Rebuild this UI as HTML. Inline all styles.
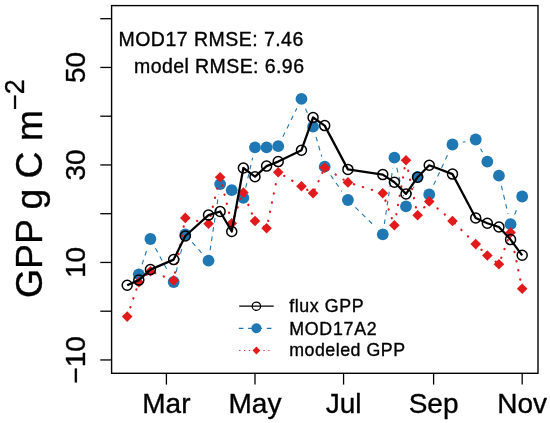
<!DOCTYPE html>
<html><head><meta charset="utf-8"><style>
html,body{margin:0;padding:0;background:#fff;}
svg{display:block;}
text{font-family:"Liberation Sans",Arial,Helvetica,sans-serif;fill:#000;stroke:#000;stroke-width:0.35px;}
.ax{font-size:28px;}
.yl{font-size:37.3px;}
.sup{font-size:27px;}
.tx{font-size:19.5px;}
.lg{font-size:17.8px;}
</style></head><body>
<svg width="550" height="423" viewBox="0 0 550 423">
<rect width="550" height="423" fill="#fff"/>
<rect x="111.6" y="5.6" width="426.40" height="367.70" fill="none" stroke="#000" stroke-width="1.4"/>
<line x1="100.30" y1="359.95" x2="111.60" y2="359.95" stroke="#000" stroke-width="1.3"/>
<line x1="100.30" y1="311.20" x2="111.60" y2="311.20" stroke="#000" stroke-width="1.3"/>
<line x1="100.30" y1="262.45" x2="111.60" y2="262.45" stroke="#000" stroke-width="1.3"/>
<line x1="100.30" y1="213.70" x2="111.60" y2="213.70" stroke="#000" stroke-width="1.3"/>
<line x1="100.30" y1="164.95" x2="111.60" y2="164.95" stroke="#000" stroke-width="1.3"/>
<line x1="100.30" y1="116.20" x2="111.60" y2="116.20" stroke="#000" stroke-width="1.3"/>
<line x1="100.30" y1="67.45" x2="111.60" y2="67.45" stroke="#000" stroke-width="1.3"/>
<line x1="100.30" y1="18.70" x2="111.60" y2="18.70" stroke="#000" stroke-width="1.3"/>
<text class="ax" transform="translate(85.3,67.45) rotate(-90)" text-anchor="middle">50</text>
<text class="ax" transform="translate(85.3,164.95) rotate(-90)" text-anchor="middle">30</text>
<text class="ax" transform="translate(85.3,262.45) rotate(-90)" text-anchor="middle">10</text>
<text class="ax" transform="translate(85.3,359.95) rotate(-90)" text-anchor="middle">−10</text>
<line x1="166.41" y1="373.30" x2="166.41" y2="384.60" stroke="#000" stroke-width="1.3"/>
<text class="ax" x="166.41" y="412.5" text-anchor="middle">Mar</text>
<line x1="254.99" y1="373.30" x2="254.99" y2="384.60" stroke="#000" stroke-width="1.3"/>
<text class="ax" x="254.99" y="412.5" text-anchor="middle">May</text>
<line x1="343.57" y1="373.30" x2="343.57" y2="384.60" stroke="#000" stroke-width="1.3"/>
<text class="ax" x="343.57" y="412.5" text-anchor="middle">Jul</text>
<line x1="433.60" y1="373.30" x2="433.60" y2="384.60" stroke="#000" stroke-width="1.3"/>
<text class="ax" x="433.60" y="412.5" text-anchor="middle">Sep</text>
<line x1="522.18" y1="373.30" x2="522.18" y2="384.60" stroke="#000" stroke-width="1.3"/>
<text class="ax" x="522.18" y="412.5" text-anchor="middle">Nov</text>
<text class="yl" transform="translate(41.7,188.6) rotate(-90)" text-anchor="middle">GPP g C m<tspan class="sup" dy="-17.8">−2</tspan></text>
<path d="M142.10 264.33L147.15 248.97" fill="none" stroke="#1F78B4" stroke-width="1.1" stroke-dasharray="4.67 4.67"/>
<path d="M155.43 248.24L168.68 272.76" fill="none" stroke="#1F78B4" stroke-width="1.1" stroke-dasharray="4.67 4.67"/>
<path d="M176.16 271.80L182.79 244.70" fill="none" stroke="#1F78B4" stroke-width="1.1" stroke-dasharray="4.67 4.67"/>
<path d="M192.27 242.34L201.54 252.76" fill="none" stroke="#1F78B4" stroke-width="1.1" stroke-dasharray="4.67 4.67"/>
<path d="M210.10 250.22L218.56 194.48" fill="none" stroke="#1F78B4" stroke-width="1.1" stroke-dasharray="4.67 4.67"/>
<path d="M245.73 187.57L252.63 157.63" fill="none" stroke="#1F78B4" stroke-width="1.1" stroke-dasharray="4.67 4.67"/>
<path d="M282.85 136.78L296.83 108.32" fill="none" stroke="#1F78B4" stroke-width="1.1" stroke-dasharray="4.67 4.67"/>
<path d="M305.50 108.59L309.02 117.01" fill="none" stroke="#1F78B4" stroke-width="1.1" stroke-dasharray="4.67 4.67"/>
<path d="M316.00 136.78L321.76 156.62" fill="none" stroke="#1F78B4" stroke-width="1.1" stroke-dasharray="4.67 4.67"/>
<path d="M330.70 175.31L341.91 191.39" fill="none" stroke="#1F78B4" stroke-width="1.1" stroke-dasharray="4.67 4.67"/>
<path d="M355.41 207.37L375.29 226.93" fill="none" stroke="#1F78B4" stroke-width="1.1" stroke-dasharray="4.67 4.67"/>
<path d="M384.35 223.92L392.82 168.08" fill="none" stroke="#1F78B4" stroke-width="1.1" stroke-dasharray="4.67 4.67"/>
<path d="M396.83 167.91L403.57 196.19" fill="none" stroke="#1F78B4" stroke-width="1.1" stroke-dasharray="4.67 4.67"/>
<path d="M409.87 196.63L413.77 186.77" fill="none" stroke="#1F78B4" stroke-width="1.1" stroke-dasharray="4.67 4.67"/>
<path d="M433.67 184.88L448.04 154.02" fill="none" stroke="#1F78B4" stroke-width="1.1" stroke-dasharray="4.67 4.67"/>
<path d="M462.74 142.29L465.45 141.71" fill="none" stroke="#1F78B4" stroke-width="1.1" stroke-dasharray="4.67 4.67"/>
<path d="M480.60 148.79L482.44 152.31" fill="none" stroke="#1F78B4" stroke-width="1.1" stroke-dasharray="4.67 4.67"/>
<path d="M501.39 185.91L508.12 213.99" fill="none" stroke="#1F78B4" stroke-width="1.1" stroke-dasharray="4.67 4.67"/>
<path d="M514.62 214.52L518.12 206.18" fill="none" stroke="#1F78B4" stroke-width="1.1" stroke-dasharray="4.67 4.67"/>
<circle cx="138.82" cy="274.30" r="5.9" fill="#1F78B4"/>
<circle cx="150.43" cy="239.00" r="5.9" fill="#1F78B4"/>
<circle cx="173.67" cy="282.00" r="5.9" fill="#1F78B4"/>
<circle cx="185.29" cy="234.50" r="5.9" fill="#1F78B4"/>
<circle cx="208.52" cy="260.60" r="5.9" fill="#1F78B4"/>
<circle cx="220.14" cy="184.10" r="5.9" fill="#1F78B4"/>
<circle cx="231.75" cy="190.20" r="5.9" fill="#1F78B4"/>
<circle cx="243.37" cy="197.80" r="5.9" fill="#1F78B4"/>
<circle cx="254.99" cy="147.40" r="5.9" fill="#1F78B4"/>
<circle cx="266.60" cy="147.40" r="5.9" fill="#1F78B4"/>
<circle cx="278.22" cy="146.20" r="5.9" fill="#1F78B4"/>
<circle cx="301.46" cy="98.90" r="5.9" fill="#1F78B4"/>
<circle cx="313.07" cy="126.70" r="5.9" fill="#1F78B4"/>
<circle cx="324.69" cy="166.70" r="5.9" fill="#1F78B4"/>
<circle cx="347.92" cy="200.00" r="5.9" fill="#1F78B4"/>
<circle cx="382.77" cy="234.30" r="5.9" fill="#1F78B4"/>
<circle cx="394.39" cy="157.70" r="5.9" fill="#1F78B4"/>
<circle cx="406.01" cy="206.40" r="5.9" fill="#1F78B4"/>
<circle cx="417.62" cy="177.00" r="5.9" fill="#1F78B4"/>
<circle cx="429.24" cy="194.40" r="5.9" fill="#1F78B4"/>
<circle cx="452.48" cy="144.50" r="5.9" fill="#1F78B4"/>
<circle cx="475.71" cy="139.50" r="5.9" fill="#1F78B4"/>
<circle cx="487.33" cy="161.60" r="5.9" fill="#1F78B4"/>
<circle cx="498.94" cy="175.70" r="5.9" fill="#1F78B4"/>
<circle cx="510.56" cy="224.20" r="5.9" fill="#1F78B4"/>
<circle cx="522.18" cy="196.50" r="5.9" fill="#1F78B4"/>
<path d="M127.20 316.60L138.82 282.30" fill="none" stroke="#E31A1C" stroke-width="2.2" stroke-linecap="round" stroke-dasharray="0.3 9.04" stroke-dashoffset="8.92"/>
<path d="M138.82 282.30L150.43 271.20" fill="none" stroke="#E31A1C" stroke-width="2.2" stroke-linecap="round" stroke-dasharray="0.3 9.04" stroke-dashoffset="7.79"/>
<path d="M150.43 271.20L173.67 280.40" fill="none" stroke="#E31A1C" stroke-width="2.2" stroke-linecap="round" stroke-dasharray="0.3 9.04" stroke-dashoffset="4.42"/>
<path d="M173.67 280.40L185.29 217.90" fill="none" stroke="#E31A1C" stroke-width="2.2" stroke-linecap="round" stroke-dasharray="0.3 9.04" stroke-dashoffset="1.40"/>
<path d="M185.29 217.90L208.52 223.80" fill="none" stroke="#E31A1C" stroke-width="2.2" stroke-linecap="round" stroke-dasharray="0.3 9.04" stroke-dashoffset="6.62"/>
<path d="M208.52 223.80L220.14 177.20" fill="none" stroke="#E31A1C" stroke-width="2.2" stroke-linecap="round" stroke-dasharray="0.3 9.04" stroke-dashoffset="1.24"/>
<path d="M220.14 177.20L231.75 223.20" fill="none" stroke="#E31A1C" stroke-width="2.2" stroke-linecap="round" stroke-dasharray="0.3 9.04" stroke-dashoffset="0.84"/>
<path d="M231.75 223.20L243.37 192.50" fill="none" stroke="#E31A1C" stroke-width="2.2" stroke-linecap="round" stroke-dasharray="0.3 9.04" stroke-dashoffset="2.02"/>
<path d="M243.37 192.50L254.99 221.00" fill="none" stroke="#E31A1C" stroke-width="2.2" stroke-linecap="round" stroke-dasharray="0.3 9.04" stroke-dashoffset="5.49"/>
<path d="M254.99 221.00L266.60 228.30" fill="none" stroke="#E31A1C" stroke-width="2.2" stroke-linecap="round" stroke-dasharray="0.3 9.04" stroke-dashoffset="8.25"/>
<path d="M266.60 228.30L278.22 172.20" fill="none" stroke="#E31A1C" stroke-width="2.2" stroke-linecap="round" stroke-dasharray="0.3 9.04" stroke-dashoffset="1.89"/>
<path d="M278.22 172.20L301.46 186.30" fill="none" stroke="#E31A1C" stroke-width="2.2" stroke-linecap="round" stroke-dasharray="0.3 9.04" stroke-dashoffset="2.39"/>
<path d="M301.46 186.30L313.07 193.30" fill="none" stroke="#E31A1C" stroke-width="2.2" stroke-linecap="round" stroke-dasharray="0.3 9.04" stroke-dashoffset="2.69"/>
<path d="M313.07 193.30L324.69 167.60" fill="none" stroke="#E31A1C" stroke-width="2.2" stroke-linecap="round" stroke-dasharray="0.3 9.04" stroke-dashoffset="5.59"/>
<path d="M324.69 167.60L347.92 182.40" fill="none" stroke="#E31A1C" stroke-width="2.2" stroke-linecap="round" stroke-dasharray="0.3 9.04" stroke-dashoffset="5.78"/>
<path d="M347.92 182.40L382.77 193.20" fill="none" stroke="#E31A1C" stroke-width="2.2" stroke-linecap="round" stroke-dasharray="0.3 9.04" stroke-dashoffset="3.12"/>
<path d="M382.77 193.20L394.39 225.20" fill="none" stroke="#E31A1C" stroke-width="2.2" stroke-linecap="round" stroke-dasharray="0.3 9.04" stroke-dashoffset="1.59"/>
<path d="M394.39 225.20L406.01 160.30" fill="none" stroke="#E31A1C" stroke-width="2.2" stroke-linecap="round" stroke-dasharray="0.3 9.04" stroke-dashoffset="7.62"/>
<path d="M406.01 160.30L417.62 215.30" fill="none" stroke="#E31A1C" stroke-width="2.2" stroke-linecap="round" stroke-dasharray="0.3 9.04" stroke-dashoffset="8.20"/>
<path d="M417.62 215.30L429.24 201.40" fill="none" stroke="#E31A1C" stroke-width="2.2" stroke-linecap="round" stroke-dasharray="0.3 9.04" stroke-dashoffset="8.40"/>
<path d="M429.24 201.40L452.48 221.00" fill="none" stroke="#E31A1C" stroke-width="2.2" stroke-linecap="round" stroke-dasharray="0.3 9.04" stroke-dashoffset="7.84"/>
<path d="M452.48 221.00L475.71 244.10" fill="none" stroke="#E31A1C" stroke-width="2.2" stroke-linecap="round" stroke-dasharray="0.3 9.04" stroke-dashoffset="6.24"/>
<path d="M475.71 244.10L487.33 255.50" fill="none" stroke="#E31A1C" stroke-width="2.2" stroke-linecap="round" stroke-dasharray="0.3 9.04" stroke-dashoffset="1.39"/>
<path d="M487.33 255.50L498.94 264.20" fill="none" stroke="#E31A1C" stroke-width="2.2" stroke-linecap="round" stroke-dasharray="0.3 9.04" stroke-dashoffset="8.33"/>
<path d="M498.94 264.20L510.56 232.60" fill="none" stroke="#E31A1C" stroke-width="2.2" stroke-linecap="round" stroke-dasharray="0.3 9.04" stroke-dashoffset="2.69"/>
<path d="M510.56 232.60L522.18 288.80" fill="none" stroke="#E31A1C" stroke-width="2.2" stroke-linecap="round" stroke-dasharray="0.3 9.04" stroke-dashoffset="8.35"/>
<polygon points="127.20,311.30 132.50,316.60 127.20,321.90 121.90,316.60" fill="#E31A1C"/>
<polygon points="138.82,277.00 144.12,282.30 138.82,287.60 133.52,282.30" fill="#E31A1C"/>
<polygon points="150.43,265.90 155.73,271.20 150.43,276.50 145.13,271.20" fill="#E31A1C"/>
<polygon points="173.67,275.10 178.97,280.40 173.67,285.70 168.37,280.40" fill="#E31A1C"/>
<polygon points="185.29,212.60 190.59,217.90 185.29,223.20 179.99,217.90" fill="#E31A1C"/>
<polygon points="208.52,218.50 213.82,223.80 208.52,229.10 203.22,223.80" fill="#E31A1C"/>
<polygon points="220.14,171.90 225.44,177.20 220.14,182.50 214.84,177.20" fill="#E31A1C"/>
<polygon points="231.75,217.90 237.05,223.20 231.75,228.50 226.45,223.20" fill="#E31A1C"/>
<polygon points="243.37,187.20 248.67,192.50 243.37,197.80 238.07,192.50" fill="#E31A1C"/>
<polygon points="254.99,215.70 260.29,221.00 254.99,226.30 249.69,221.00" fill="#E31A1C"/>
<polygon points="266.60,223.00 271.90,228.30 266.60,233.60 261.30,228.30" fill="#E31A1C"/>
<polygon points="278.22,166.90 283.52,172.20 278.22,177.50 272.92,172.20" fill="#E31A1C"/>
<polygon points="301.46,181.00 306.76,186.30 301.46,191.60 296.16,186.30" fill="#E31A1C"/>
<polygon points="313.07,188.00 318.37,193.30 313.07,198.60 307.77,193.30" fill="#E31A1C"/>
<polygon points="324.69,162.30 329.99,167.60 324.69,172.90 319.39,167.60" fill="#E31A1C"/>
<polygon points="347.92,177.10 353.22,182.40 347.92,187.70 342.62,182.40" fill="#E31A1C"/>
<polygon points="382.77,187.90 388.07,193.20 382.77,198.50 377.47,193.20" fill="#E31A1C"/>
<polygon points="394.39,219.90 399.69,225.20 394.39,230.50 389.09,225.20" fill="#E31A1C"/>
<polygon points="406.01,155.00 411.31,160.30 406.01,165.60 400.71,160.30" fill="#E31A1C"/>
<polygon points="417.62,210.00 422.93,215.30 417.62,220.60 412.32,215.30" fill="#E31A1C"/>
<polygon points="429.24,196.10 434.54,201.40 429.24,206.70 423.94,201.40" fill="#E31A1C"/>
<polygon points="452.48,215.70 457.78,221.00 452.48,226.30 447.18,221.00" fill="#E31A1C"/>
<polygon points="475.71,238.80 481.01,244.10 475.71,249.40 470.41,244.10" fill="#E31A1C"/>
<polygon points="487.33,250.20 492.63,255.50 487.33,260.80 482.03,255.50" fill="#E31A1C"/>
<polygon points="498.94,258.90 504.24,264.20 498.94,269.50 493.64,264.20" fill="#E31A1C"/>
<polygon points="510.56,227.30 515.86,232.60 510.56,237.90 505.26,232.60" fill="#E31A1C"/>
<polygon points="522.18,283.50 527.48,288.80 522.18,294.10 516.88,288.80" fill="#E31A1C"/>
<circle cx="127.20" cy="285.30" r="5.0" fill="none" stroke="#000" stroke-width="1.5"/>
<circle cx="138.82" cy="280.10" r="5.0" fill="none" stroke="#000" stroke-width="1.5"/>
<circle cx="150.43" cy="269.60" r="5.0" fill="none" stroke="#000" stroke-width="1.5"/>
<circle cx="173.67" cy="259.60" r="5.0" fill="none" stroke="#000" stroke-width="1.5"/>
<circle cx="185.29" cy="236.00" r="5.0" fill="none" stroke="#000" stroke-width="1.5"/>
<circle cx="208.52" cy="215.10" r="5.0" fill="none" stroke="#000" stroke-width="1.5"/>
<circle cx="220.14" cy="211.50" r="5.0" fill="none" stroke="#000" stroke-width="1.5"/>
<circle cx="231.75" cy="231.50" r="5.0" fill="none" stroke="#000" stroke-width="1.5"/>
<circle cx="243.37" cy="168.00" r="5.0" fill="none" stroke="#000" stroke-width="1.5"/>
<circle cx="254.99" cy="176.70" r="5.0" fill="none" stroke="#000" stroke-width="1.5"/>
<circle cx="266.60" cy="166.10" r="5.0" fill="none" stroke="#000" stroke-width="1.5"/>
<circle cx="278.22" cy="161.60" r="5.0" fill="none" stroke="#000" stroke-width="1.5"/>
<circle cx="301.46" cy="150.20" r="5.0" fill="none" stroke="#000" stroke-width="1.5"/>
<circle cx="313.07" cy="117.50" r="5.0" fill="none" stroke="#000" stroke-width="1.5"/>
<circle cx="324.69" cy="125.60" r="5.0" fill="none" stroke="#000" stroke-width="1.5"/>
<circle cx="347.92" cy="169.40" r="5.0" fill="none" stroke="#000" stroke-width="1.5"/>
<circle cx="382.77" cy="174.60" r="5.0" fill="none" stroke="#000" stroke-width="1.5"/>
<circle cx="394.39" cy="182.30" r="5.0" fill="none" stroke="#000" stroke-width="1.5"/>
<circle cx="406.01" cy="193.90" r="5.0" fill="none" stroke="#000" stroke-width="1.5"/>
<circle cx="417.62" cy="177.20" r="5.0" fill="none" stroke="#000" stroke-width="1.5"/>
<circle cx="429.24" cy="165.30" r="5.0" fill="none" stroke="#000" stroke-width="1.5"/>
<circle cx="452.48" cy="174.10" r="5.0" fill="none" stroke="#000" stroke-width="1.5"/>
<circle cx="475.71" cy="218.00" r="5.0" fill="none" stroke="#000" stroke-width="1.5"/>
<circle cx="487.33" cy="223.20" r="5.0" fill="none" stroke="#000" stroke-width="1.5"/>
<circle cx="498.94" cy="227.00" r="5.0" fill="none" stroke="#000" stroke-width="1.5"/>
<circle cx="510.56" cy="239.60" r="5.0" fill="none" stroke="#000" stroke-width="1.5"/>
<circle cx="522.18" cy="255.30" r="5.0" fill="none" stroke="#000" stroke-width="1.5"/>
<polyline points="127.20,285.30 138.82,280.10 150.43,269.60 173.67,259.60 185.29,236.00 208.52,215.10 220.14,211.50 231.75,231.50 243.37,168.00 254.99,176.70 266.60,166.10 278.22,161.60 301.46,150.20 313.07,117.50 324.69,125.60 347.92,169.40 382.77,174.60 394.39,182.30 406.01,193.90 417.62,177.20 429.24,165.30 452.48,174.10 475.71,218.00 487.33,223.20 498.94,227.00 510.56,239.60 522.18,255.30" fill="none" stroke="#000" stroke-width="2.25" stroke-linejoin="round"/>
<text class="tx" x="118.5" y="46.0" textLength="184.8" lengthAdjust="spacing">MOD17 RMSE: 7.46</text>
<text class="tx" x="134.0" y="72.7" textLength="170.0" lengthAdjust="spacing">model RMSE: 6.96</text>
<line x1="239.2" y1="306.2" x2="273.7" y2="306.2" stroke="#000" stroke-width="1.167"/>
<circle cx="256.4" cy="306.2" r="4.2" fill="none" stroke="#000" stroke-width="1.25"/>
<line x1="238.79999999999998" y1="328.3" x2="273.7" y2="328.3" stroke="#1F78B4" stroke-width="1.167" stroke-dasharray="4.67 4.67"/>
<circle cx="256.4" cy="328.3" r="5.0" fill="#1F78B4"/>
<line x1="239.2" y1="350.5" x2="272.9" y2="350.5" stroke="#E31A1C" stroke-width="1.167" stroke-dasharray="1.2 3.65"/>
<polygon points="256.4,346.6 260.29999999999995,350.5 256.4,354.4 252.49999999999997,350.5" fill="#E31A1C"/>
<text class="lg" x="289.2" y="312.2" textLength="74.3" lengthAdjust="spacing">flux GPP</text>
<text class="lg" x="289.2" y="334.7" textLength="87.5" lengthAdjust="spacing">MOD17A2</text>
<text class="lg" x="289.2" y="356.4" textLength="115.8" lengthAdjust="spacing">modeled GPP</text>
</svg>
</body></html>
